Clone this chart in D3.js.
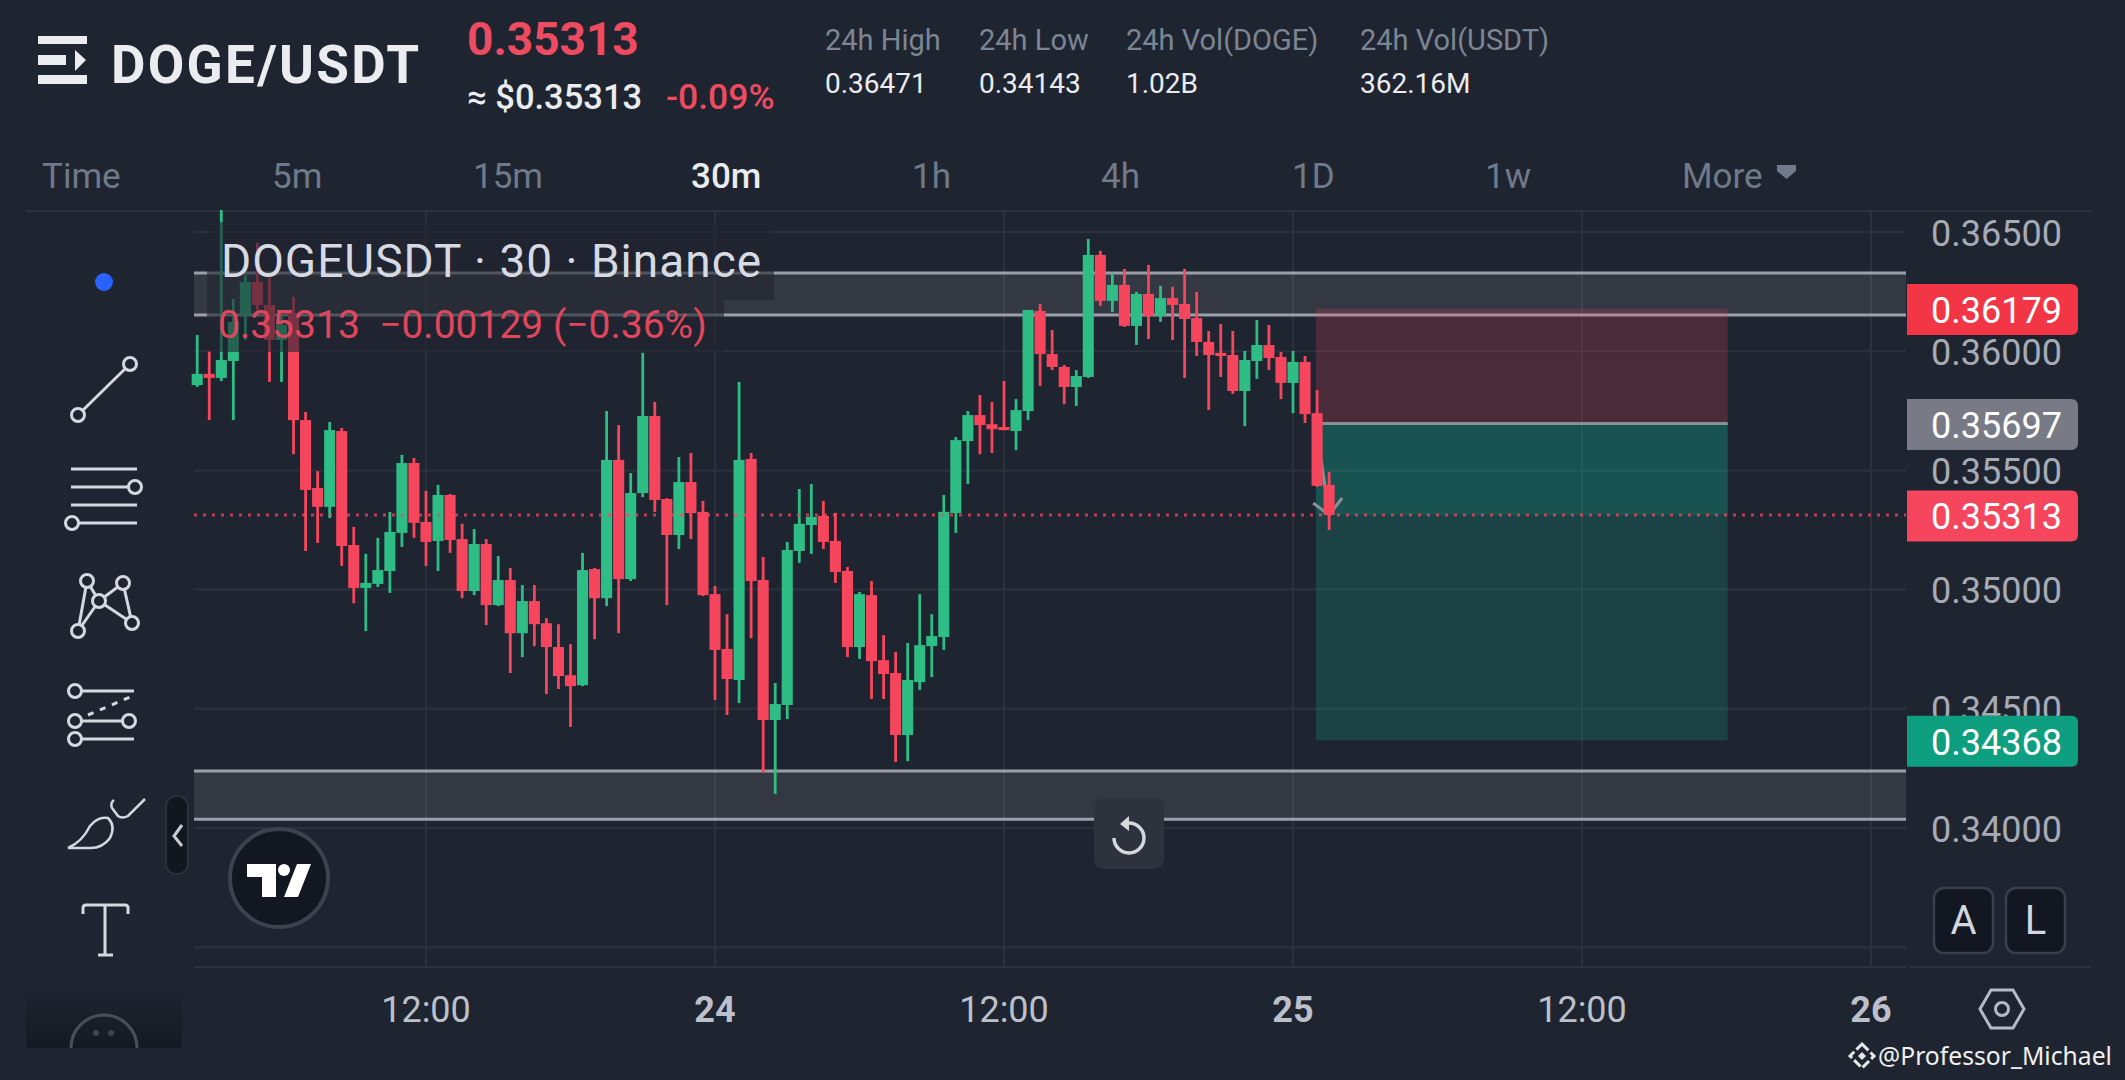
<!DOCTYPE html>
<html>
<head>
<meta charset="utf-8">
<script src="https://cdnjs.cloudflare.com/ajax/libs/d3/7.8.5/d3.min.js"></script>
<style>
  html, body { margin: 0; padding: 0; background: #1f2530; }
  svg { display: block; font-family: Roboto, sans-serif; }
</style>
</head>
<body>
<div id="chart"></div>
<script>
// candle values, 30 minute bars
const opens = [0.35858,0.35905,0.35888,0.35959,0.36152,0.36290,0.36194,0.36047,0.36160,0.35711,0.35426,0.35347,0.35665,0.35187,0.35007,0.35024,0.35078,0.35238,0.35531,0.35284,0.35204,0.35397,0.35212,0.34994,0.35191,0.34935,0.35040,0.34817,0.34952,0.34859,0.34759,0.34641,0.34599,0.35086,0.34964,0.35544,0.35044,0.35405,0.35728,0.35380,0.35229,0.35451,0.35326,0.34981,0.34751,0.34621,0.35548,0.35040,0.34453,0.34516,0.35162,0.35271,0.35309,0.35204,0.35078,0.34759,0.34977,0.34704,0.34650,0.34390,0.34612,0.34763,0.34801,0.35321,0.35623,0.35732,0.35694,0.35682,0.35665,0.35749,0.36169,0.35988,0.35934,0.35850,0.35892,0.36404,0.36211,0.36278,0.36106,0.36240,0.36148,0.36223,0.36198,0.36139,0.36039,0.35993,0.35984,0.35833,0.35959,0.36026,0.35976,0.35867,0.35955,0.35740,0.35439];
const highs = [0.36068,0.36001,0.36592,0.36219,0.36319,0.36454,0.36307,0.36152,0.36227,0.35745,0.35497,0.35703,0.35678,0.35263,0.35150,0.35217,0.35326,0.35565,0.35552,0.35414,0.35439,0.35401,0.35276,0.35254,0.35212,0.35141,0.35091,0.35019,0.35019,0.34880,0.34855,0.34771,0.35154,0.35091,0.35749,0.35690,0.35489,0.35993,0.35787,0.35384,0.35556,0.35573,0.35372,0.35015,0.34897,0.35871,0.35573,0.35137,0.34608,0.35200,0.35422,0.35443,0.35372,0.35322,0.35095,0.34990,0.35036,0.34809,0.34738,0.34776,0.34981,0.34897,0.35397,0.35640,0.35749,0.35816,0.35787,0.35875,0.35799,0.36173,0.36198,0.36089,0.35942,0.35921,0.36471,0.36421,0.36328,0.36345,0.36249,0.36362,0.36274,0.36270,0.36345,0.36249,0.36085,0.36114,0.36085,0.36001,0.36131,0.36110,0.35997,0.36001,0.35980,0.35837,0.35493];
const lows = [0.35850,0.35711,0.35875,0.35711,0.36047,0.36173,0.35871,0.35871,0.35568,0.35162,0.35196,0.35300,0.35099,0.34943,0.34826,0.35011,0.34986,0.35179,0.35217,0.35099,0.35078,0.35154,0.34964,0.34977,0.34851,0.34931,0.34650,0.34717,0.34763,0.34562,0.34583,0.34424,0.34595,0.34792,0.34931,0.34817,0.35036,0.35388,0.35326,0.34935,0.35170,0.35212,0.34973,0.34537,0.34474,0.34524,0.34796,0.34234,0.34143,0.34457,0.35112,0.35150,0.35170,0.35028,0.34717,0.34709,0.34541,0.34541,0.34277,0.34281,0.34579,0.34633,0.34747,0.35238,0.35443,0.35568,0.35573,0.35669,0.35585,0.35711,0.35854,0.35921,0.35778,0.35770,0.35888,0.36190,0.36165,0.36102,0.36026,0.36051,0.36123,0.36047,0.35888,0.35980,0.35753,0.35892,0.35821,0.35686,0.35884,0.35921,0.35799,0.35740,0.35699,0.35431,0.35250];
const closes = [0.35905,0.35888,0.35963,0.36123,0.36290,0.36194,0.36047,0.36110,0.35711,0.35418,0.35347,0.35669,0.35183,0.35007,0.35028,0.35082,0.35242,0.35531,0.35280,0.35200,0.35397,0.35208,0.34994,0.35191,0.34935,0.35040,0.34817,0.34952,0.34855,0.34759,0.34637,0.34595,0.35082,0.34964,0.35544,0.35044,0.35405,0.35728,0.35376,0.35229,0.35451,0.35321,0.34977,0.34747,0.34625,0.35544,0.35036,0.34453,0.34520,0.35166,0.35276,0.35305,0.35200,0.35074,0.34759,0.34981,0.34700,0.34646,0.34390,0.34621,0.34767,0.34805,0.35326,0.35627,0.35732,0.35690,0.35673,0.35669,0.35753,0.36173,0.35988,0.35934,0.35850,0.35896,0.36404,0.36211,0.36278,0.36106,0.36240,0.36148,0.36223,0.36194,0.36135,0.36039,0.35984,0.35980,0.35833,0.35963,0.36026,0.35971,0.35867,0.35955,0.35736,0.35435,0.35313];

const priceTicks = [0.365, 0.36, 0.355, 0.35, 0.345, 0.34];
const gridOnlyTicks = [0.335];
const timeTickBars = [19, 43, 67, 91, 115, 139];
const timeTickLabels = ['12:00', '24', '12:00', '25', '12:00', '26'];
const dayTicks = ['24', '25', '26'];

const zonePrices = [[0.36328, 0.36152], [0.34239, 0.34037]];
const positionBars = [92.9, 127.1];
const stopPrice = 0.36179, entryPrice = 0.35697, targetPrice = 0.34368, lastPrice = 0.35313;

const stats = [
  { label: '24h High', value: '0.36471', x: 825 },
  { label: '24h Low', value: '0.34143', x: 979 },
  { label: '24h Vol(DOGE)', value: '1.02B', x: 1126 },
  { label: '24h Vol(USDT)', value: '362.16M', x: 1360 }
];
const tabs = [['Time', 42], ['5m', 272], ['15m', 473], ['30m', 691], ['1h', 912], ['4h', 1101], ['1D', 1292], ['1w', 1485], ['More', 1682]];

const bg = '#1f2530', up = '#2ebd85', down = '#f6465d', gridColor = '#2c323d', zoneLine = '#9c9fa9';
const plotLeft = 194, plotRight = 1906, plotTop = 212, plotBottom = 967;

const svg = d3.select('#chart').append('svg').attr('width', 2125).attr('height', 1080);
svg.append('rect').attr('width', 2125).attr('height', 1080).attr('fill', bg);

const x = d3.scaleLinear().domain([19, 139]).range([426, 1871]);
const y = d3.scaleLinear().domain([0.34, 0.365]).range([828, 232]);
const step = x(1) - x(0);

// grid
const grid = svg.append('g').attr('stroke', gridColor).attr('stroke-width', 2);
grid.selectAll('.h').data(priceTicks.concat(gridOnlyTicks)).join('line').attr('class', 'h')
  .attr('x1', plotLeft).attr('x2', plotRight).attr('y1', d => y(d)).attr('y2', d => y(d));
grid.selectAll('.v').data(timeTickBars).join('line').attr('class', 'v')
  .attr('x1', d => x(d)).attr('x2', d => x(d)).attr('y1', plotTop).attr('y2', plotBottom);
grid.append('line').attr('x1', 26).attr('x2', 2091).attr('y1', 211).attr('y2', 211);
grid.append('line').attr('x1', plotLeft).attr('x2', plotRight).attr('y1', plotBottom).attr('y2', plotBottom);
grid.append('line').attr('x1', 1910).attr('x2', 2090).attr('y1', plotBottom).attr('y2', plotBottom);

// support / resistance zones
zonePrices.forEach(z => {
  svg.append('rect').attr('x', plotLeft).attr('width', plotRight - plotLeft)
    .attr('y', y(z[0])).attr('height', y(z[1]) - y(z[0])).attr('fill', 'rgba(255,255,255,0.09)');
  z.forEach(p => {
    svg.append('line').attr('x1', plotLeft).attr('x2', plotRight).attr('y1', y(p)).attr('y2', y(p))
      .attr('stroke', zoneLine).attr('stroke-width', 3);
  });
});

// short position tool
const posX = x(positionBars[0]), posW = x(positionBars[1]) - posX;
svg.append('rect').attr('x', posX).attr('width', posW).attr('y', y(stopPrice))
  .attr('height', y(entryPrice) - y(stopPrice)).attr('fill', 'rgba(246,70,93,0.2)');
svg.append('rect').attr('x', posX).attr('width', posW).attr('y', y(entryPrice))
  .attr('height', y(lastPrice) - y(entryPrice)).attr('fill', 'rgba(10,190,160,0.3)');
svg.append('rect').attr('x', posX).attr('width', posW).attr('y', y(lastPrice))
  .attr('height', y(targetPrice) - y(lastPrice)).attr('fill', 'rgba(10,190,160,0.19)');
svg.append('line').attr('x1', posX).attr('x2', posX + posW).attr('y1', y(entryPrice)).attr('y2', y(entryPrice))
  .attr('stroke', '#8b9095').attr('stroke-width', 3);
svg.append('path')
  .attr('d', `M${posX},${y(entryPrice)}L${x(94)},${y(lastPrice)}M${x(94) - 16},${y(lastPrice) - 12}L${x(94)},${y(lastPrice)}L${x(94) + 13},${y(lastPrice) - 17}`)
  .attr('fill', 'none').attr('stroke', '#8b9095').attr('stroke-width', 3);

// candles
const bars = d3.range(opens.length);
const candle = svg.append('g').selectAll('g').data(bars).join('g')
  .attr('fill', i => closes[i] >= opens[i] ? up : down);
candle.append('rect')
  .attr('x', i => x(i) - 1.4).attr('width', 2.8)
  .attr('y', i => y(highs[i])).attr('height', i => y(lows[i]) - y(highs[i]));
candle.append('rect')
  .attr('x', i => x(i) - step * 0.46).attr('width', step * 0.92)
  .attr('y', i => y(Math.max(opens[i], closes[i])))
  .attr('height', i => Math.max(2.5, Math.abs(y(opens[i]) - y(closes[i]))));

// last price line
svg.append('line').attr('x1', plotLeft).attr('x2', plotRight).attr('y1', y(lastPrice)).attr('y2', y(lastPrice))
  .attr('stroke', down).attr('stroke-opacity', 0.75).attr('stroke-width', 3).attr('stroke-dasharray', '3 6');

// legend with its translucent backing
svg.append('rect').attr('x', 207).attr('y', 222).attr('width', 567).attr('height', 78).attr('fill', bg).attr('fill-opacity', 0.6);
svg.append('rect').attr('x', 207).attr('y', 300).attr('width', 517).attr('height', 52).attr('fill', bg).attr('fill-opacity', 0.6);
svg.append('text').attr('x', 221).attr('y', 277).attr('font-size', 46).attr('letter-spacing', 1)
  .attr('fill', '#d7dae2').text('DOGEUSDT · 30 · Binance');
svg.append('text').attr('x', 218).attr('y', 338).attr('font-size', 39).attr('fill', '#e0465c')
  .attr('xml:space', 'preserve').style('white-space', 'pre').text('0.35313  −0.00129 (−0.36%)');

// axes
const yAxis = d3.axisRight(y).tickValues(priceTicks).tickFormat(d3.format('.5f')).tickSize(0).tickPadding(0);
const yg = svg.append('g').attr('transform', 'translate(1931,1.5)').call(yAxis);
yg.select('.domain').remove();
yg.selectAll('text').attr('font-size', 36).attr('font-family', 'Roboto').attr('fill', '#a7abb6');

const xAxis = d3.axisBottom(x).tickValues(timeTickBars).tickFormat((d, i) => timeTickLabels[i]).tickSize(0).tickPadding(0);
const xg = svg.append('g').attr('transform', 'translate(-0.5,996)').call(xAxis);
xg.select('.domain').remove();
xg.selectAll('text').attr('font-size', 36).attr('font-family', 'Roboto').attr('fill', '#bcc0ca')
  .attr('font-weight', (d, i) => dayTicks.includes(timeTickLabels[i]) ? 700 : 400);

// price tags
function tagPath(tx, cy, w, h, r) {
  const t = cy - h / 2, b = cy + h / 2;
  return `M${tx},${t}H${tx + w - r}Q${tx + w},${t} ${tx + w},${t + r}V${b - r}Q${tx + w},${b} ${tx + w - r},${b}H${tx}Z`;
}
const tags = [[stopPrice, '#f23645'], [entryPrice, '#787b86'], [lastPrice, down], [targetPrice, '#0e9f80']];
tags.forEach(t => {
  svg.append('path').attr('d', tagPath(plotRight + 1, y(t[0]) + 1, 171, 51, 7)).attr('fill', t[1]);
  svg.append('text').attr('x', 1931).attr('y', y(t[0]) + 1.5).attr('dy', '.36em').attr('font-size', 36)
    .attr('fill', '#fff').text(t[0].toFixed(5));
});

// header
const head = svg.append('g');
head.append('path').attr('fill', '#eaecef')
  .attr('d', 'M38,36H87V44H38ZM38,55H66V65H38ZM38,75H87V84H38ZM75,50L86,60L75,71Z');
head.append('text').attr('x', 111).attr('y', 83).attr('font-size', 53).attr('font-weight', 700)
  .attr('letter-spacing', 2.3).attr('fill', '#eaecef').text('DOGE/USDT');
head.append('text').attr('x', 467).attr('y', 55).attr('font-size', 46).attr('font-weight', 700)
  .attr('fill', '#ed4b62').text('0.35313');
head.append('text').attr('x', 467).attr('y', 109).attr('font-size', 34.5).attr('font-weight', 500)
  .attr('fill', '#eaecef').text('≈ $0.35313');
head.append('text').attr('x', 666).attr('y', 109).attr('font-size', 35.5).attr('font-weight', 500)
  .attr('fill', '#ed4b62').text('-0.09%');
stats.forEach(s => {
  head.append('text').attr('x', s.x).attr('y', 50).attr('font-size', 29).attr('fill', '#7c8594').text(s.label);
  head.append('text').attr('x', s.x).attr('y', 93).attr('font-size', 28).attr('fill', '#eaecef').text(s.value);
});
tabs.forEach(t => {
  head.append('text').attr('x', t[1]).attr('y', 188).attr('font-size', 35)
    .attr('font-weight', t[0] === '30m' ? 500 : 400)
    .attr('fill', t[0] === '30m' ? '#eaecef' : '#707a8a').text(t[0]);
});
head.append('path').attr('d', 'M1777,165H1796V171L1786.5,179L1777,171Z').attr('fill', '#707a8a');

// left toolbar
const tool = svg.append('g').attr('fill', 'none').attr('stroke', '#d5d8de').attr('stroke-width', 3);
function node(cx, cy) { tool.append('circle').attr('cx', cx).attr('cy', cy).attr('r', 6.5).attr('fill', bg); }
svg.append('circle').attr('cx', 104).attr('cy', 282).attr('r', 9).attr('fill', '#2962ff');
tool.append('path').attr('d', 'M78,415L130,364');
node(78, 415); node(130, 364);
tool.append('path').attr('d', 'M71,469H137M71,487H137M71,505H137M71,523H137');
node(135, 487); node(72, 523);
tool.append('path').attr('d', 'M87,581L78,631L99,601L87,581M99,601L123,583L132,623L99,601');
[[87, 581], [123, 583], [99, 601], [132, 623], [78, 631]].forEach(p => node(p[0], p[1]));
tool.append('path').attr('d', 'M75,691H134M75,721H129M75,739H134');
tool.append('path').attr('d', 'M88,715L130,697').attr('stroke-dasharray', '6 7');
node(75, 691); node(75, 721); node(75, 739); node(129, 721);
tool.append('path').attr('stroke-width', 2.5).attr('d', 'M68,848Q82,842 90,826Q98,816 108,818Q116,826 110,838Q102,849 88,848ZM114,800Q110,803 112,808L118,816Q122,819 128,816L145,799');
tool.append('path').attr('d', 'M83,914V908Q83,905 86,905H125Q128,905 128,908V914M105,905V955M98,955H113');
const fadeGrad = svg.append('defs').append('linearGradient').attr('id', 'fade').attr('x1', 0).attr('x2', 0).attr('y1', 0).attr('y2', 1);
fadeGrad.append('stop').attr('offset', 0).attr('stop-color', bg);
fadeGrad.append('stop').attr('offset', 1).attr('stop-color', '#141922');
svg.append('rect').attr('x', 26).attr('y', 989).attr('width', 156).attr('height', 59).attr('fill', 'url(#fade)');
svg.append('path').attr('d', 'M71,1048A33,33 0 0 1 137,1048').attr('fill', 'none').attr('stroke', '#4a4f59').attr('stroke-width', 3);
svg.append('circle').attr('cx', 96).attr('cy', 1033).attr('r', 3).attr('fill', '#3f444e');
svg.append('circle').attr('cx', 111).attr('cy', 1033).attr('r', 3).attr('fill', '#3f444e');
svg.append('rect').attr('x', 166).attr('y', 796).attr('width', 22).attr('height', 78).attr('rx', 10)
  .attr('fill', '#12161f').attr('stroke', '#2b3039').attr('stroke-width', 2);
svg.append('path').attr('d', 'M182,825L174,836L182,846').attr('fill', 'none').attr('stroke', '#c5c9d2').attr('stroke-width', 3);

// TradingView badge
svg.append('circle').attr('cx', 279).attr('cy', 878).attr('r', 49).attr('fill', '#131722').attr('stroke', '#3d424d').attr('stroke-width', 4);
svg.append('path').attr('fill', '#fff').attr('d', 'M247,864H276V897H262V877H247ZM297,864H311L298,897H284Z');
svg.append('circle').attr('cx', 284).attr('cy', 870).attr('r', 6).attr('fill', '#fff');

// reset button
svg.append('rect').attr('x', 1094).attr('y', 798).attr('width', 70).attr('height', 71).attr('rx', 10).attr('fill', '#2d323d');
svg.append('path').attr('d', 'M1129,823A15,15 0 1 1 1114,838').attr('fill', 'none').attr('stroke', '#d5d8de').attr('stroke-width', 3.5);
svg.append('path').attr('d', 'M1120,824L1129,816V831Z').attr('fill', '#d5d8de');

// A / L buttons
[['A', 1934], ['L', 2006]].forEach(b => {
  svg.append('rect').attr('x', b[1]).attr('y', 888).attr('width', 59).attr('height', 65).attr('rx', 10)
    .attr('fill', '#131722').attr('stroke', '#3a3f4a').attr('stroke-width', 2.5);
  svg.append('text').attr('x', b[1] + 29.5).attr('y', 934).attr('text-anchor', 'middle').attr('font-size', 40)
    .attr('fill', '#d4d7df').text(b[0]);
});

// settings hexagon
svg.append('path').attr('d', 'M1980,1009L1991,990H2013L2024,1009L2013,1028H1991Z').attr('fill', 'none').attr('stroke', '#b5bac4').attr('stroke-width', 3);
svg.append('circle').attr('cx', 2002).attr('cy', 1009).attr('r', 6.5).attr('fill', 'none').attr('stroke', '#b5bac4').attr('stroke-width', 3);

// watermark
svg.append('path').attr('d', 'M1862,1044L1874,1056L1862,1068L1850,1056Z').attr('fill', 'none').attr('stroke', '#e8e8e8').attr('stroke-width', 3).attr('stroke-dasharray', '9 3');
svg.append('path').attr('d', 'M1862,1052L1866,1056L1862,1060L1858,1056Z').attr('fill', '#e8e8e8');
svg.append('text').attr('x', 1878).attr('y', 1065).attr('font-size', 24.7).attr('font-family', '"Noto Sans"').attr('fill', '#f0f0f0').text('@Professor_Michael');
</script>
</body>
</html>
